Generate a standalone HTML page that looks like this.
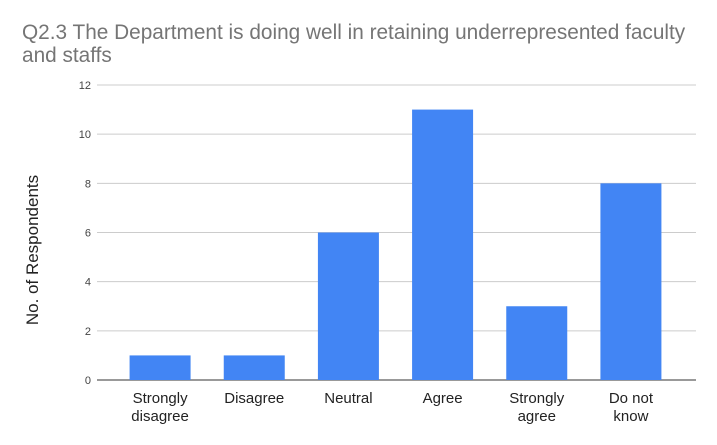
<!DOCTYPE html>
<html><head><meta charset="utf-8"><style>
body{margin:0;background:#fff;font-family:"Liberation Sans",Arial,sans-serif}
svg{display:block}
</style></head><body>
<svg id="chart" width="717" height="445" xmlns="http://www.w3.org/2000/svg">
<rect width="717" height="445" fill="#fff"/>
<text x="22" y="39" font-size="20.8" fill="#757575">Q2.3 The Department is doing well in retaining underrepresented faculty</text>
<text x="22" y="62" font-size="20.8" fill="#757575">and staffs</text>
<text transform="translate(38,250) rotate(-90)" text-anchor="middle" font-size="17" fill="#222">No. of Respondents</text>
<g id="grid"></g><g id="bars"></g><g id="labels"></g>
</svg>
<script>
const categories=[["Strongly","disagree"],["Disagree"],["Neutral"],["Agree"],["Strongly","agree"],["Do not","know"]];
const values=[1,1,6,11,3,8];
const yTicks=[0,2,4,6,8,10,12];
const NS="http://www.w3.org/2000/svg";
const gx0=97,gx1=696,bx0=113,bx1=678,yBase=380,yTop=85,yMax=12;
const y=v=>yBase-(v/yMax)*(yBase-yTop);
const band=(bx1-bx0)/categories.length;
const xc=i=>bx0+band*(i+0.5);
function mk(t,a,p){const e=document.createElementNS(NS,t);for(const k in a)e.setAttribute(k,a[k]);p.appendChild(e);return e;}
const grid=document.getElementById('grid'),bars=document.getElementById('bars'),labels=document.getElementById('labels');
yTicks.forEach(t=>{
 const l=mk('line',{x1:gx0,x2:gx1,y1:y(t),y2:y(t),stroke:t===0?'#333':'#ccc','stroke-width':1},grid);
 
 
 const tx=mk('text',{x:gx0-6,y:y(t)+4,'text-anchor':'end','font-size':11,fill:'#444'},grid);
 tx.textContent=t;
 
 
});
values.forEach((v,i)=>{
 const w=61;
 const r=mk('rect',{x:xc(i)-w/2,y:y(v),width:w,height:yBase-y(v),fill:'#4285f4'},bars);
 
 
 categories[i].forEach((line,j)=>{
  const t=mk('text',{x:xc(i),y:403+j*18,'text-anchor':'middle','font-size':15,fill:'#222'},labels);
  t.textContent=line;
  
  
 });
});
</script>
</body></html>
